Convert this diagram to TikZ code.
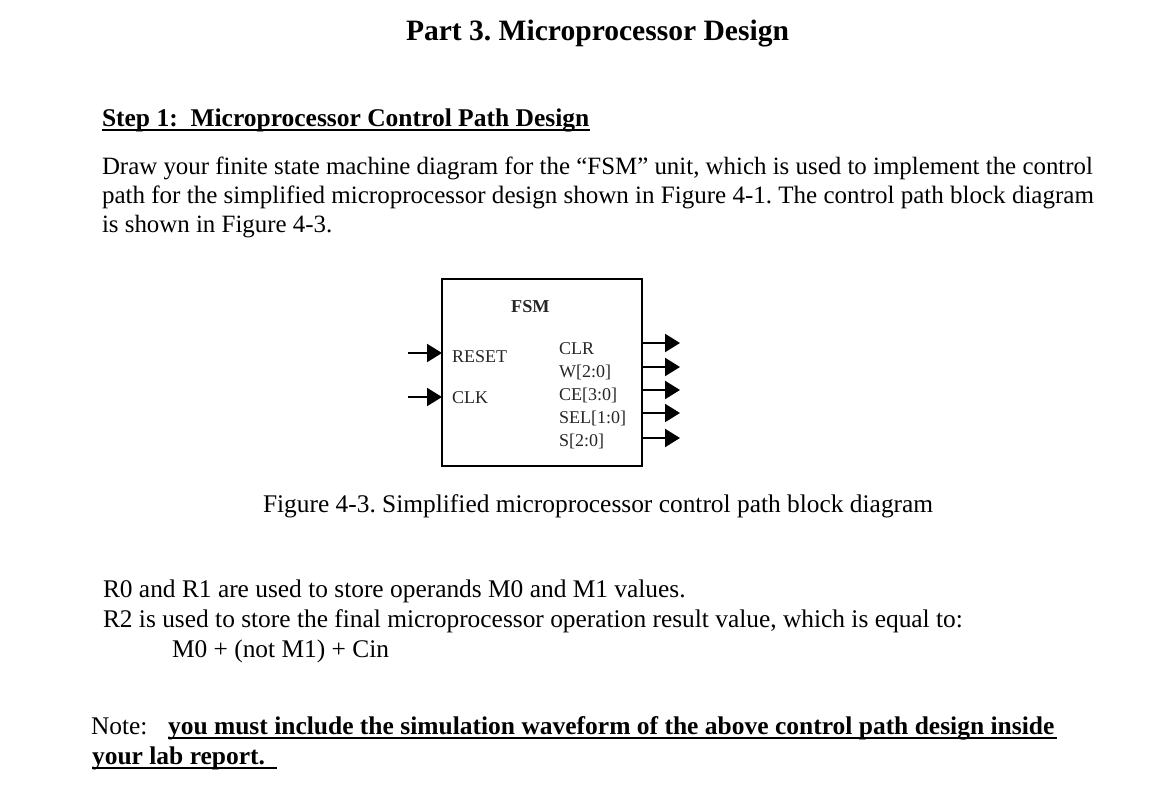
\documentclass[tikz,border=0pt]{standalone}
\usepackage{fontspec}
\setmainfont{Liberation Serif}
\usetikzlibrary{arrows.meta}
\tikzset{
 px/.style={x=1pt,y=-1pt},
 txt/.style={anchor=base west,inner sep=0pt,outer sep=0pt},
 sig/.style={anchor=base west,inner sep=0pt,font=\fontsize{18}{18}\selectfont,text=black!85},
 body/.style={txt,font=\fontsize{25.4}{26}\selectfont},
 para/.style={txt,font=\fontsize{24.9}{26}\selectfont},
 boldbody/.style={txt,font=\fontsize{25.5}{26}\selectfont\bfseries},
 pin/.style={draw=black,line width=2.2pt,-{Triangle[length=15pt,width=18pt]}}
}
\newcommand{\ul}[3]{\draw[line width=1.6pt] (#1,#3) -- (#2,#3);}
\frenchspacing
\begin{document}
\begin{tikzpicture}[px]
\useasboundingbox[fill=white] (0,0) rectangle (1172,805);
\node[txt,font=\fontsize{29.55}{30}\selectfont\bfseries] (title) at (406,41) {Part 3. Microprocessor Design};
\node[boldbody] (step) at (102,127) {Step 1:\ \ Microprocessor Control Path Design};
\ul{102}{590}{130}
\node[para] (p1) at (102,175) {Draw your finite state machine diagram for the “FSM” unit, which is used to implement the control};
\node[para,font=\fontsize{25.03}{26}\selectfont] (p2) at (102,204) {path for the simplified microprocessor design shown in Figure 4-1. The control path block diagram};
\node[para] (p3) at (102,232) {is shown in Figure 4-3.};
\draw[line width=1.6pt] (442,279) rectangle (642,466);
\node[sig,font=\fontsize{18.2}{18}\selectfont\bfseries] (fsm) at (511,312) {FSM};
\node[sig] (reset) at (452,362) {RESET};
\node[sig] (clk) at (452,403) {CLK};
\node[sig] (clr) at (559,354) {CLR};
\node[sig] (w) at (559,377) {W[2:0]};
\node[sig] (ce) at (559,400) {CE[3:0]};
\node[sig] (sel) at (559,423) {SEL[1:0]};
\node[sig] (s) at (559,446) {S[2:0]};
\coordinate (i1) at (408,353); \coordinate (i1e) at (442,353);
\coordinate (i2) at (408,397); \coordinate (i2e) at (442,397);
\draw[pin] (i1) -- (i1e);
\draw[pin] (i2) -- (i2e);
\foreach \n/\y in {a/343,b/367,c/390,d/413,e/438}{
 \coordinate (o\n) at (642,\y); \coordinate (t\n) at (680,\y);
 \draw[pin] (o\n) -- (t\n);
}
\node[body] (cap) at (263,512) {Figure 4-3. Simplified microprocessor control path block diagram};
\node[body] (r1) at (103,597) {R0 and R1 are used to store operands M0 and M1 values.};
\node[body] (r2) at (103,627) {R2 is used to store the final microprocessor operation result value, which is equal to:};
\node[body] (r3) at (172,657) {M0 + (not M1) + Cin};
\node[body] (n1) at (91,734) {Note:};
\node[boldbody] (n2) at (168,734) {you must include the simulation waveform of the above control path design inside};
\node[boldbody] (n3) at (92,764) {your lab report.};
\ul{168}{1057}{738}
\ul{92}{277}{768}
\end{tikzpicture}
\end{document}
